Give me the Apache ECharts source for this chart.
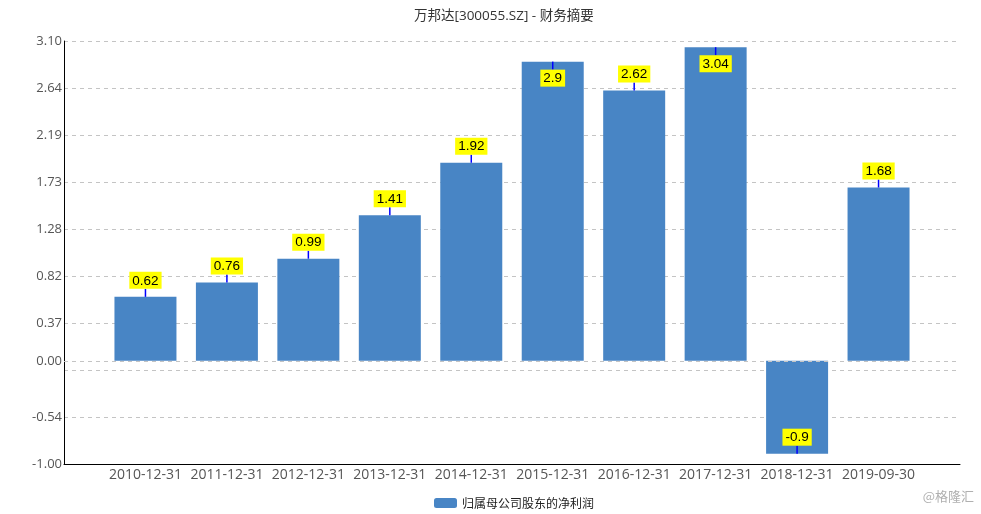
<!DOCTYPE html>
<html><head><meta charset="utf-8">
<script src="https://cdn.jsdelivr.net/npm/echarts@6/dist/echarts.min.js"></script>
<style>html,body{margin:0;padding:0;background:#fff}#c{width:981px;height:514px}</style>
</head><body><div id="c"></div>
<script>
const titleText = '万邦达[300055.SZ] - 财务摘要';
const seriesName = '归属母公司股东的净利润';
const categories = ['2010-12-31','2011-12-31','2012-12-31','2013-12-31','2014-12-31','2015-12-31','2016-12-31','2017-12-31','2018-12-31','2019-09-30'];
const profits = [0.62, 0.76, 0.99, 1.41, 1.92, 2.9, 2.62, 3.04, -0.9, 1.68];
const yTickLabels = ['-1.00','-0.54','','0.37','0.82','1.28','1.73','2.19','2.64','3.10'];
const yMin = -1, yMax = 3.1;

const axisCats = [''].concat(categories, ['']);
const pairs = categories.map((c, i) => [c, profits[i]]);
const font = '"Open Sans","Noto Sans CJK SC",sans-serif';
const cjk = '"Noto Sans CJK SC",sans-serif';
const gridTop = 41;

const chart = echarts.init(document.getElementById('c'), null, {renderer: 'canvas'});
chart.setOption({
  animation: false,
  backgroundColor: '#fff',
  textStyle: {fontFamily: font},
  title: {text: titleText, left: 409, top: 4, textStyle: {fontSize: 13.5, fontWeight: 'normal', color: '#333', fontFamily: font}},
  legend: {top: 492, left: 429, itemWidth: 23, itemHeight: 10, itemGap: 6, textStyle: {fontSize: 12, color: '#222', fontFamily: cjk}, data: [seriesName]},
  graphic: [{type: 'text', right: 7, top: 490, style: {text: '@格隆汇', fill: '#b0b0b0', fontSize: 13, fontFamily: cjk}}],
  grid: {left: 64, right: 21, top: gridTop, bottom: 50, containLabel: false},
  xAxis: {type: 'category', data: axisCats, boundaryGap: false,
    axisLine: {onZero: false, lineStyle: {color: '#000', width: 1}}, axisTick: {show: false},
    axisLabel: {interval: 0, color: '#555', fontSize: 14, margin: 4, fontFamily: font},
    splitLine: {show: false}},
  yAxis: [
    {type: 'value', min: yMin, max: yMax, axisLine: {show: true, lineStyle: {color: '#000'}},
     axisLabel: {show: false}, axisTick: {show: false}, splitLine: {show: false}},
    {type: 'value', min: 0, max: yTickLabels.length - 1, interval: 1, position: 'left',
     axisLine: {show: false}, axisTick: {show: false},
     axisLabel: {formatter: v => yTickLabels[Math.round(v)] || '', color: '#555', fontSize: 13, margin: 2, fontFamily: font},
     splitLine: {show: true, lineStyle: {type: [4, 4], color: '#c4c4c4', width: 1}}}
  ],
  series: [
    {name: seriesName, type: 'bar', yAxisIndex: 0, data: pairs, barWidth: 62,
     itemStyle: {color: '#4885c5'}, z: 2,
     markLine: {silent: true, symbol: 'none', animation: false,
       data: [{yAxis: 0}],
       lineStyle: {type: [4, 4], color: '#c4c4c4', width: 1},
       label: {position: 'start', formatter: '0.00', color: '#555', fontSize: 13, distance: 2, fontFamily: font}}},
    {type: 'custom', yAxisIndex: 0, data: pairs, z: 5, silent: true,
     renderItem: function (params, api) {
       const v = api.value(1);
       const pt = api.coord([api.value(0), v]);
       const down = v >= 0 && pt[1] - 26 < gridTop;
       const len = 8;
       const y2 = down ? pt[1] + len : pt[1] - len;
       return {type: 'group', children: [
         {type: 'line', shape: {x1: pt[0], y1: pt[1], x2: pt[0], y2: y2}, style: {stroke: '#0000ff', lineWidth: 1.5}},
         {type: 'text', x: pt[0], y: y2,
          style: {text: String(v), fill: '#000', fontSize: 13.5, fontFamily: '"Liberation Sans",Arial,sans-serif',
            backgroundColor: '#ffff00', padding: [2, 3, 1, 3], lineHeight: 14,
            align: 'center', verticalAlign: down ? 'top' : 'bottom'}}
       ]};
     }}
  ]
});
</script></body></html>
